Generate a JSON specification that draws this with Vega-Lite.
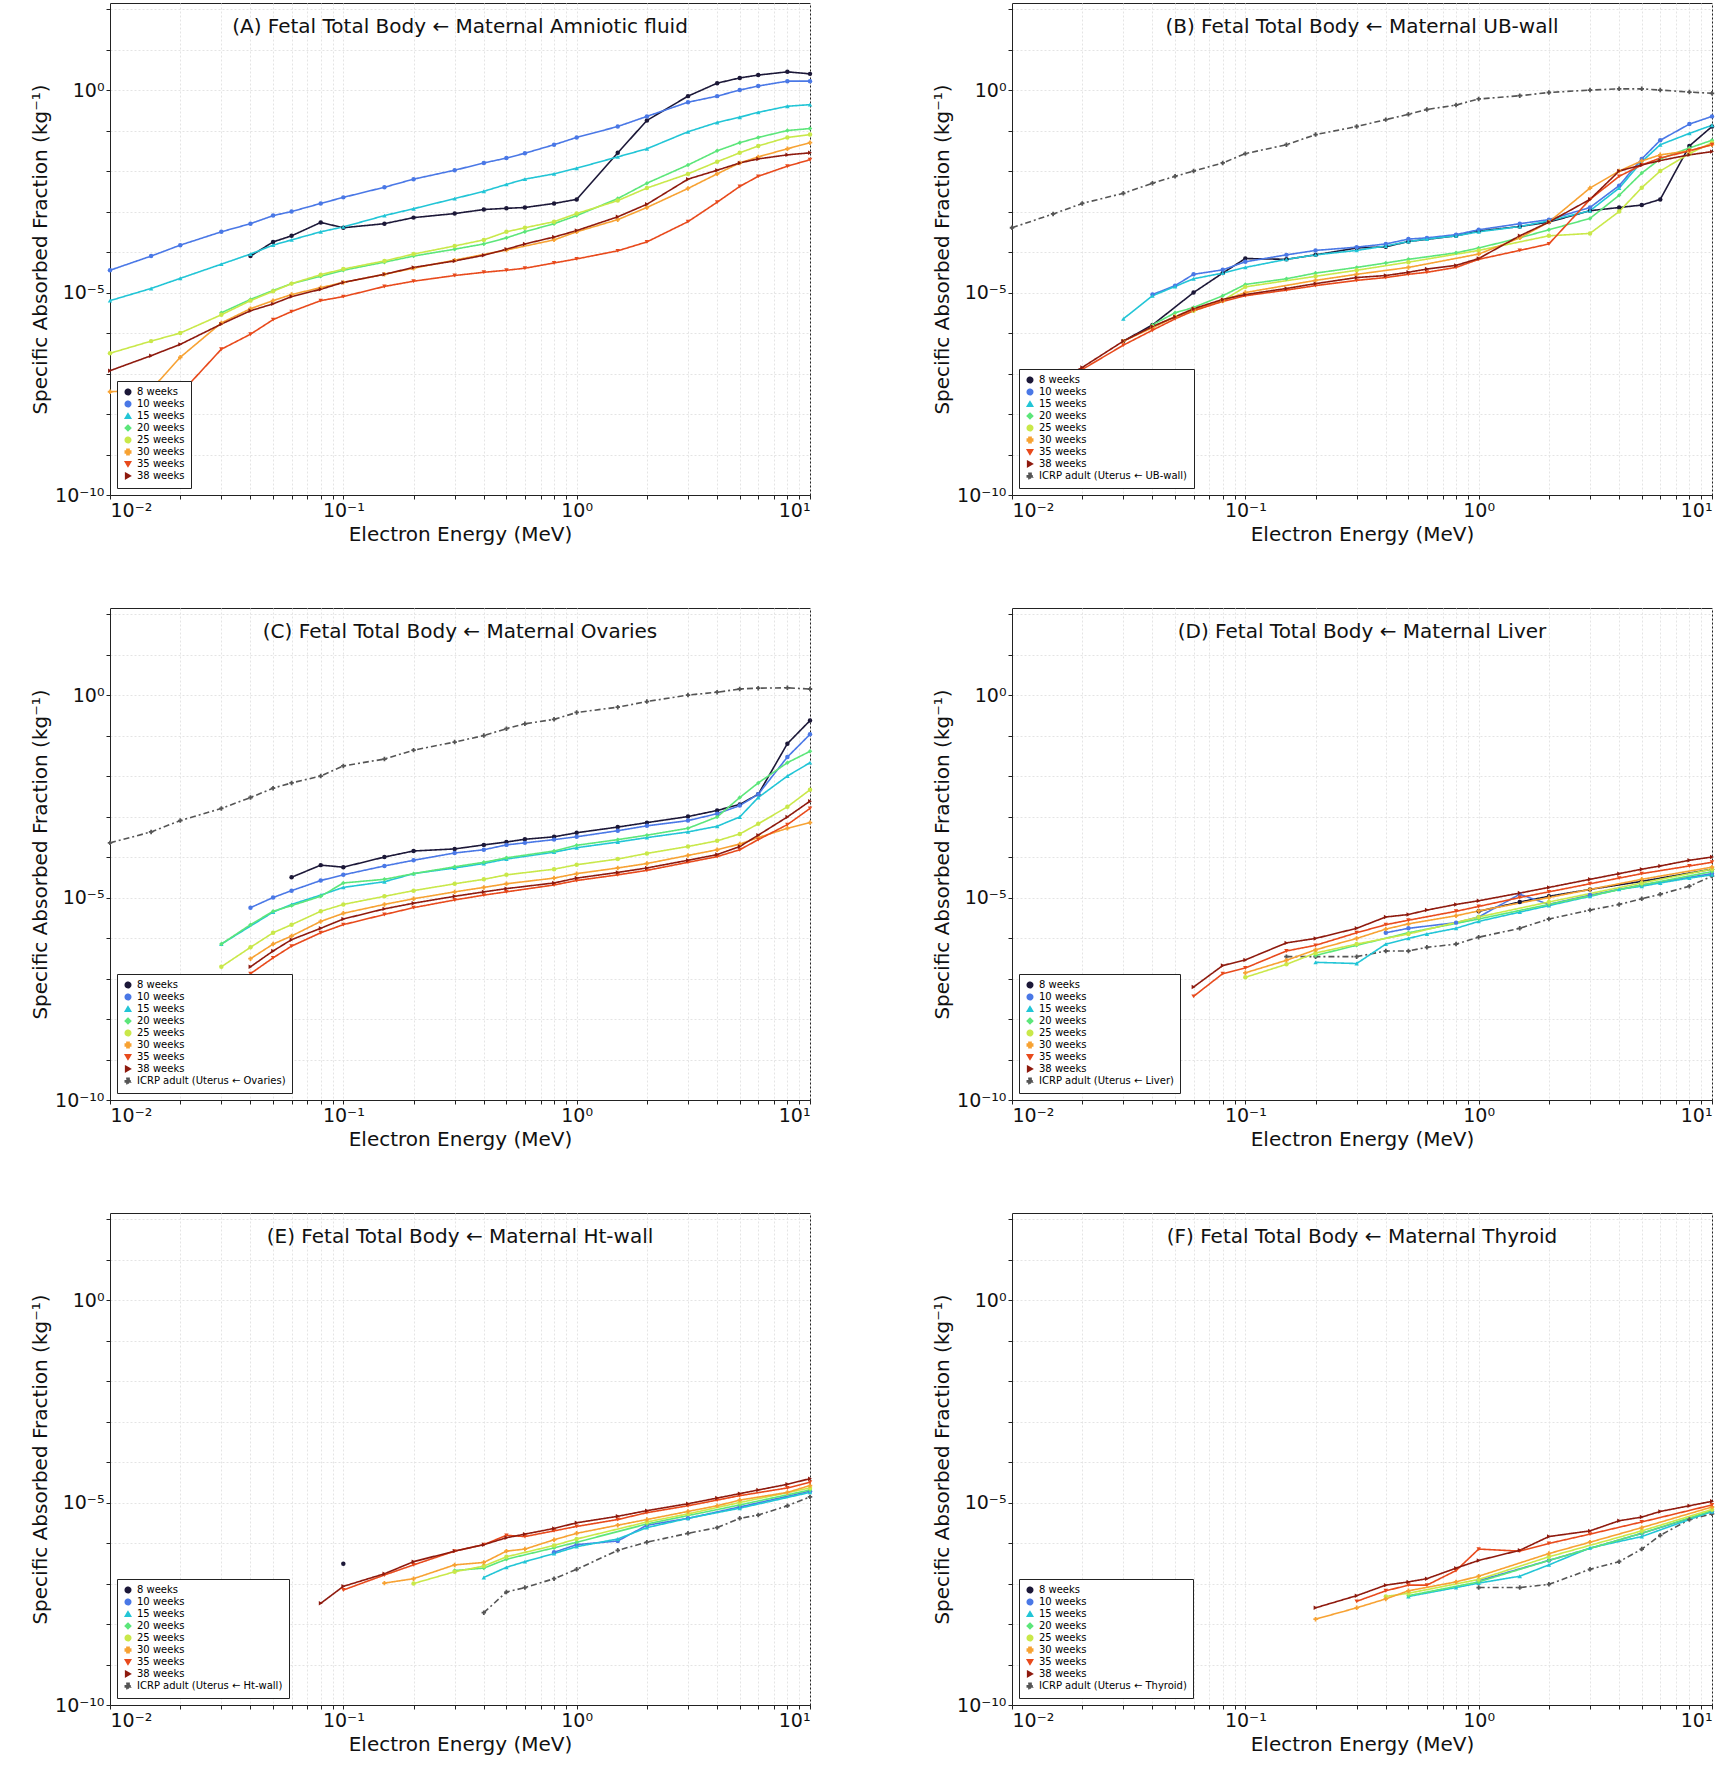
{
"$schema":"https://vega.github.io/schema/vega-lite/v6.json",
"padding":{"left":30,"top":2,"right":5,"bottom":5},
"config":{"font":"DejaVu Sans","view":{"stroke":"#222"},"axis":{"gridColor":"#e4e4e4","gridDash":[2,2],"labelFontSize":19,"titleFontSize":20,"titleFontWeight":"normal","domainColor":"#222","tickColor":"#222","labelColor":"#111","titleColor":"#111"},"title":{"fontSize":20,"fontWeight":"normal","offset":-34,"color":"#111"},"legend":{"orient":"bottom-left","labelFontSize":10,"fillColor":"white","strokeColor":"#222","padding":6,"rowPadding":0,"symbolSize":30,"symbolStrokeWidth":1.5,"labelLimit":300,"offset":7}},
"datasets":{
"A":[
{"s":"8 weeks","e":0.04,"l":-4.1},{"s":"8 weeks","e":0.05,"l":-3.75},{"s":"8 weeks","e":0.06,"l":-3.6},{"s":"8 weeks","e":0.08,"l":-3.27},{"s":"8 weeks","e":0.1,"l":-3.4},{"s":"8 weeks","e":0.15,"l":-3.3},{"s":"8 weeks","e":0.2,"l":-3.15},{"s":"8 weeks","e":0.3,"l":-3.05},{"s":"8 weeks","e":0.4,"l":-2.95},{"s":"8 weeks","e":0.5,"l":-2.92},{"s":"8 weeks","e":0.6,"l":-2.9},{"s":"8 weeks","e":0.8,"l":-2.8},{"s":"8 weeks","e":1,"l":-2.7},{"s":"8 weeks","e":1.5,"l":-1.55},{"s":"8 weeks","e":2,"l":-0.75},{"s":"8 weeks","e":3,"l":-0.15},{"s":"8 weeks","e":4,"l":0.17},{"s":"8 weeks","e":5,"l":0.3},{"s":"8 weeks","e":6,"l":0.37},{"s":"8 weeks","e":8,"l":0.45},{"s":"8 weeks","e":10,"l":0.4},
{"s":"10 weeks","e":0.01,"l":-4.45},{"s":"10 weeks","e":0.015,"l":-4.1},{"s":"10 weeks","e":0.02,"l":-3.83},{"s":"10 weeks","e":0.03,"l":-3.5},{"s":"10 weeks","e":0.04,"l":-3.3},{"s":"10 weeks","e":0.05,"l":-3.1},{"s":"10 weeks","e":0.06,"l":-3.0},{"s":"10 weeks","e":0.08,"l":-2.8},{"s":"10 weeks","e":0.1,"l":-2.65},{"s":"10 weeks","e":0.15,"l":-2.4},{"s":"10 weeks","e":0.2,"l":-2.2},{"s":"10 weeks","e":0.3,"l":-1.98},{"s":"10 weeks","e":0.4,"l":-1.8},{"s":"10 weeks","e":0.5,"l":-1.68},{"s":"10 weeks","e":0.6,"l":-1.56},{"s":"10 weeks","e":0.8,"l":-1.35},{"s":"10 weeks","e":1,"l":-1.17},{"s":"10 weeks","e":1.5,"l":-0.9},{"s":"10 weeks","e":2,"l":-0.65},{"s":"10 weeks","e":3,"l":-0.3},{"s":"10 weeks","e":4,"l":-0.15},{"s":"10 weeks","e":5,"l":0},{"s":"10 weeks","e":6,"l":0.1},{"s":"10 weeks","e":8,"l":0.22},{"s":"10 weeks","e":10,"l":0.22},
{"s":"15 weeks","e":0.01,"l":-5.2},{"s":"15 weeks","e":0.015,"l":-4.9},{"s":"15 weeks","e":0.02,"l":-4.65},{"s":"15 weeks","e":0.03,"l":-4.3},{"s":"15 weeks","e":0.04,"l":-4.05},{"s":"15 weeks","e":0.05,"l":-3.83},{"s":"15 weeks","e":0.06,"l":-3.7},{"s":"15 weeks","e":0.08,"l":-3.5},{"s":"15 weeks","e":0.1,"l":-3.38},{"s":"15 weeks","e":0.15,"l":-3.1},{"s":"15 weeks","e":0.2,"l":-2.93},{"s":"15 weeks","e":0.3,"l":-2.68},{"s":"15 weeks","e":0.4,"l":-2.5},{"s":"15 weeks","e":0.5,"l":-2.33},{"s":"15 weeks","e":0.6,"l":-2.2},{"s":"15 weeks","e":0.8,"l":-2.07},{"s":"15 weeks","e":1,"l":-1.93},{"s":"15 weeks","e":1.5,"l":-1.65},{"s":"15 weeks","e":2,"l":-1.45},{"s":"15 weeks","e":3,"l":-1.03},{"s":"15 weeks","e":4,"l":-0.8},{"s":"15 weeks","e":5,"l":-0.67},{"s":"15 weeks","e":6,"l":-0.55},{"s":"15 weeks","e":8,"l":-0.4},{"s":"15 weeks","e":10,"l":-0.36},
{"s":"20 weeks","e":0.03,"l":-5.5},{"s":"20 weeks","e":0.04,"l":-5.17},{"s":"20 weeks","e":0.05,"l":-4.95},{"s":"20 weeks","e":0.06,"l":-4.78},{"s":"20 weeks","e":0.08,"l":-4.6},{"s":"20 weeks","e":0.1,"l":-4.45},{"s":"20 weeks","e":0.15,"l":-4.25},{"s":"20 weeks","e":0.2,"l":-4.1},{"s":"20 weeks","e":0.3,"l":-3.93},{"s":"20 weeks","e":0.4,"l":-3.8},{"s":"20 weeks","e":0.5,"l":-3.65},{"s":"20 weeks","e":0.6,"l":-3.5},{"s":"20 weeks","e":0.8,"l":-3.3},{"s":"20 weeks","e":1,"l":-3.1},{"s":"20 weeks","e":1.5,"l":-2.68},{"s":"20 weeks","e":2,"l":-2.3},{"s":"20 weeks","e":3,"l":-1.85},{"s":"20 weeks","e":4,"l":-1.5},{"s":"20 weeks","e":5,"l":-1.3},{"s":"20 weeks","e":6,"l":-1.17},{"s":"20 weeks","e":8,"l":-1.0},{"s":"20 weeks","e":10,"l":-0.95},
{"s":"25 weeks","e":0.01,"l":-6.5},{"s":"25 weeks","e":0.015,"l":-6.2},{"s":"25 weeks","e":0.02,"l":-6.0},{"s":"25 weeks","e":0.03,"l":-5.55},{"s":"25 weeks","e":0.04,"l":-5.2},{"s":"25 weeks","e":0.05,"l":-4.97},{"s":"25 weeks","e":0.06,"l":-4.78},{"s":"25 weeks","e":0.08,"l":-4.56},{"s":"25 weeks","e":0.1,"l":-4.42},{"s":"25 weeks","e":0.15,"l":-4.22},{"s":"25 weeks","e":0.2,"l":-4.05},{"s":"25 weeks","e":0.3,"l":-3.85},{"s":"25 weeks","e":0.4,"l":-3.7},{"s":"25 weeks","e":0.5,"l":-3.5},{"s":"25 weeks","e":0.6,"l":-3.4},{"s":"25 weeks","e":0.8,"l":-3.25},{"s":"25 weeks","e":1,"l":-3.05},{"s":"25 weeks","e":1.5,"l":-2.73},{"s":"25 weeks","e":2,"l":-2.42},{"s":"25 weeks","e":3,"l":-2.07},{"s":"25 weeks","e":4,"l":-1.77},{"s":"25 weeks","e":5,"l":-1.55},{"s":"25 weeks","e":6,"l":-1.38},{"s":"25 weeks","e":8,"l":-1.17},{"s":"25 weeks","e":10,"l":-1.1},
{"s":"30 weeks","e":0.01,"l":-7.45},{"s":"30 weeks","e":0.015,"l":-7.4},{"s":"30 weeks","e":0.02,"l":-6.6},{"s":"30 weeks","e":0.03,"l":-5.75},{"s":"30 weeks","e":0.04,"l":-5.4},{"s":"30 weeks","e":0.05,"l":-5.2},{"s":"30 weeks","e":0.06,"l":-5.05},{"s":"30 weeks","e":0.08,"l":-4.88},{"s":"30 weeks","e":0.1,"l":-4.75},{"s":"30 weeks","e":0.15,"l":-4.55},{"s":"30 weeks","e":0.2,"l":-4.4},{"s":"30 weeks","e":0.3,"l":-4.2},{"s":"30 weeks","e":0.5,"l":-3.95},{"s":"30 weeks","e":0.8,"l":-3.7},{"s":"30 weeks","e":1,"l":-3.5},{"s":"30 weeks","e":1.5,"l":-3.2},{"s":"30 weeks","e":2,"l":-2.9},{"s":"30 weeks","e":3,"l":-2.43},{"s":"30 weeks","e":4,"l":-2.07},{"s":"30 weeks","e":5,"l":-1.8},{"s":"30 weeks","e":6,"l":-1.65},{"s":"30 weeks","e":8,"l":-1.45},{"s":"30 weeks","e":10,"l":-1.3},
{"s":"35 weeks","e":0.02,"l":-7.5},{"s":"35 weeks","e":0.03,"l":-6.4},{"s":"35 weeks","e":0.04,"l":-6.03},{"s":"35 weeks","e":0.05,"l":-5.67},{"s":"35 weeks","e":0.06,"l":-5.47},{"s":"35 weeks","e":0.08,"l":-5.2},{"s":"35 weeks","e":0.1,"l":-5.1},{"s":"35 weeks","e":0.15,"l":-4.85},{"s":"35 weeks","e":0.2,"l":-4.72},{"s":"35 weeks","e":0.3,"l":-4.58},{"s":"35 weeks","e":0.4,"l":-4.5},{"s":"35 weeks","e":0.5,"l":-4.45},{"s":"35 weeks","e":0.6,"l":-4.4},{"s":"35 weeks","e":0.8,"l":-4.27},{"s":"35 weeks","e":1,"l":-4.17},{"s":"35 weeks","e":1.5,"l":-3.97},{"s":"35 weeks","e":2,"l":-3.75},{"s":"35 weeks","e":3,"l":-3.25},{"s":"35 weeks","e":4,"l":-2.77},{"s":"35 weeks","e":5,"l":-2.38},{"s":"35 weeks","e":6,"l":-2.13},{"s":"35 weeks","e":8,"l":-1.88},{"s":"35 weeks","e":10,"l":-1.72},
{"s":"38 weeks","e":0.01,"l":-6.93},{"s":"38 weeks","e":0.015,"l":-6.56},{"s":"38 weeks","e":0.02,"l":-6.28},{"s":"38 weeks","e":0.03,"l":-5.78},{"s":"38 weeks","e":0.04,"l":-5.45},{"s":"38 weeks","e":0.05,"l":-5.28},{"s":"38 weeks","e":0.06,"l":-5.1},{"s":"38 weeks","e":0.08,"l":-4.92},{"s":"38 weeks","e":0.1,"l":-4.75},{"s":"38 weeks","e":0.15,"l":-4.55},{"s":"38 weeks","e":0.2,"l":-4.38},{"s":"38 weeks","e":0.3,"l":-4.22},{"s":"38 weeks","e":0.4,"l":-4.08},{"s":"38 weeks","e":0.5,"l":-3.93},{"s":"38 weeks","e":0.6,"l":-3.8},{"s":"38 weeks","e":0.8,"l":-3.63},{"s":"38 weeks","e":1,"l":-3.47},{"s":"38 weeks","e":1.5,"l":-3.13},{"s":"38 weeks","e":2,"l":-2.82},{"s":"38 weeks","e":3,"l":-2.2},{"s":"38 weeks","e":4,"l":-1.98},{"s":"38 weeks","e":5,"l":-1.8},{"s":"38 weeks","e":6,"l":-1.7},{"s":"38 weeks","e":8,"l":-1.6},{"s":"38 weeks","e":10,"l":-1.55}
],
"B":[
{"s":"ICRP adult (Uterus ← UB-wall)","e":0.01,"l":-3.4},{"s":"ICRP adult (Uterus ← UB-wall)","e":0.015,"l":-3.06},{"s":"ICRP adult (Uterus ← UB-wall)","e":0.02,"l":-2.8},{"s":"ICRP adult (Uterus ← UB-wall)","e":0.03,"l":-2.55},{"s":"ICRP adult (Uterus ← UB-wall)","e":0.04,"l":-2.3},{"s":"ICRP adult (Uterus ← UB-wall)","e":0.05,"l":-2.13},{"s":"ICRP adult (Uterus ← UB-wall)","e":0.06,"l":-2.0},{"s":"ICRP adult (Uterus ← UB-wall)","e":0.08,"l":-1.8},{"s":"ICRP adult (Uterus ← UB-wall)","e":0.1,"l":-1.57},{"s":"ICRP adult (Uterus ← UB-wall)","e":0.15,"l":-1.35},{"s":"ICRP adult (Uterus ← UB-wall)","e":0.2,"l":-1.1},{"s":"ICRP adult (Uterus ← UB-wall)","e":0.3,"l":-0.9},{"s":"ICRP adult (Uterus ← UB-wall)","e":0.4,"l":-0.73},{"s":"ICRP adult (Uterus ← UB-wall)","e":0.5,"l":-0.6},{"s":"ICRP adult (Uterus ← UB-wall)","e":0.6,"l":-0.48},{"s":"ICRP adult (Uterus ← UB-wall)","e":0.8,"l":-0.37},{"s":"ICRP adult (Uterus ← UB-wall)","e":1,"l":-0.22},{"s":"ICRP adult (Uterus ← UB-wall)","e":1.5,"l":-0.14},{"s":"ICRP adult (Uterus ← UB-wall)","e":2,"l":-0.06},{"s":"ICRP adult (Uterus ← UB-wall)","e":3,"l":0},{"s":"ICRP adult (Uterus ← UB-wall)","e":4,"l":0.03},{"s":"ICRP adult (Uterus ← UB-wall)","e":5,"l":0.03},{"s":"ICRP adult (Uterus ← UB-wall)","e":6,"l":0.0},{"s":"ICRP adult (Uterus ← UB-wall)","e":8,"l":-0.05},{"s":"ICRP adult (Uterus ← UB-wall)","e":10,"l":-0.08},
{"s":"8 weeks","e":0.03,"l":-6.2},{"s":"8 weeks","e":0.04,"l":-5.8},{"s":"8 weeks","e":0.06,"l":-5.0},{"s":"8 weeks","e":0.08,"l":-4.52},{"s":"8 weeks","e":0.1,"l":-4.16},{"s":"8 weeks","e":0.15,"l":-4.18},{"s":"8 weeks","e":0.2,"l":-4.07},{"s":"8 weeks","e":0.3,"l":-3.9},{"s":"8 weeks","e":0.4,"l":-3.87},{"s":"8 weeks","e":0.5,"l":-3.74},{"s":"8 weeks","e":0.8,"l":-3.6},{"s":"8 weeks","e":1,"l":-3.48},{"s":"8 weeks","e":1.5,"l":-3.37},{"s":"8 weeks","e":2,"l":-3.26},{"s":"8 weeks","e":3,"l":-2.98},{"s":"8 weeks","e":4,"l":-2.9},{"s":"8 weeks","e":5,"l":-2.84},{"s":"8 weeks","e":6,"l":-2.7},{"s":"8 weeks","e":8,"l":-1.38},{"s":"8 weeks","e":10,"l":-0.9},
{"s":"10 weeks","e":0.04,"l":-5.05},{"s":"10 weeks","e":0.05,"l":-4.83},{"s":"10 weeks","e":0.06,"l":-4.55},{"s":"10 weeks","e":0.08,"l":-4.44},{"s":"10 weeks","e":0.1,"l":-4.24},{"s":"10 weeks","e":0.15,"l":-4.07},{"s":"10 weeks","e":0.2,"l":-3.96},{"s":"10 weeks","e":0.3,"l":-3.88},{"s":"10 weeks","e":0.4,"l":-3.8},{"s":"10 weeks","e":0.5,"l":-3.68},{"s":"10 weeks","e":0.6,"l":-3.65},{"s":"10 weeks","e":0.8,"l":-3.57},{"s":"10 weeks","e":1,"l":-3.45},{"s":"10 weeks","e":1.5,"l":-3.3},{"s":"10 weeks","e":2,"l":-3.2},{"s":"10 weeks","e":3,"l":-2.9},{"s":"10 weeks","e":4,"l":-2.36},{"s":"10 weeks","e":5,"l":-1.7},{"s":"10 weeks","e":6,"l":-1.24},{"s":"10 weeks","e":8,"l":-0.84},{"s":"10 weeks","e":10,"l":-0.65},
{"s":"15 weeks","e":0.03,"l":-5.65},{"s":"15 weeks","e":0.04,"l":-5.08},{"s":"15 weeks","e":0.05,"l":-4.85},{"s":"15 weeks","e":0.06,"l":-4.66},{"s":"15 weeks","e":0.08,"l":-4.52},{"s":"15 weeks","e":0.1,"l":-4.38},{"s":"15 weeks","e":0.15,"l":-4.18},{"s":"15 weeks","e":0.2,"l":-4.07},{"s":"15 weeks","e":0.3,"l":-3.96},{"s":"15 weeks","e":0.4,"l":-3.85},{"s":"15 weeks","e":0.5,"l":-3.74},{"s":"15 weeks","e":0.6,"l":-3.68},{"s":"15 weeks","e":0.8,"l":-3.6},{"s":"15 weeks","e":1,"l":-3.5},{"s":"15 weeks","e":1.5,"l":-3.37},{"s":"15 weeks","e":2,"l":-3.23},{"s":"15 weeks","e":3,"l":-2.98},{"s":"15 weeks","e":4,"l":-2.42},{"s":"15 weeks","e":5,"l":-1.77},{"s":"15 weeks","e":6,"l":-1.35},{"s":"15 weeks","e":8,"l":-1.07},{"s":"15 weeks","e":10,"l":-0.87},
{"s":"20 weeks","e":0.04,"l":-5.8},{"s":"20 weeks","e":0.05,"l":-5.5},{"s":"20 weeks","e":0.06,"l":-5.37},{"s":"20 weeks","e":0.08,"l":-5.08},{"s":"20 weeks","e":0.1,"l":-4.8},{"s":"20 weeks","e":0.15,"l":-4.66},{"s":"20 weeks","e":0.2,"l":-4.52},{"s":"20 weeks","e":0.3,"l":-4.38},{"s":"20 weeks","e":0.4,"l":-4.27},{"s":"20 weeks","e":0.5,"l":-4.18},{"s":"20 weeks","e":0.8,"l":-4.02},{"s":"20 weeks","e":1,"l":-3.9},{"s":"20 weeks","e":1.5,"l":-3.65},{"s":"20 weeks","e":2,"l":-3.45},{"s":"20 weeks","e":3,"l":-3.17},{"s":"20 weeks","e":4,"l":-2.6},{"s":"20 weeks","e":5,"l":-2.05},{"s":"20 weeks","e":6,"l":-1.7},{"s":"20 weeks","e":8,"l":-1.43},{"s":"20 weeks","e":10,"l":-1.24},
{"s":"25 weeks","e":0.04,"l":-5.85},{"s":"25 weeks","e":0.05,"l":-5.6},{"s":"25 weeks","e":0.06,"l":-5.45},{"s":"25 weeks","e":0.08,"l":-5.2},{"s":"25 weeks","e":0.1,"l":-4.86},{"s":"25 weeks","e":0.2,"l":-4.6},{"s":"25 weeks","e":0.3,"l":-4.45},{"s":"25 weeks","e":0.5,"l":-4.25},{"s":"25 weeks","e":1,"l":-3.96},{"s":"25 weeks","e":2,"l":-3.6},{"s":"25 weeks","e":3,"l":-3.54},{"s":"25 weeks","e":4,"l":-3.0},{"s":"25 weeks","e":5,"l":-2.41},{"s":"25 weeks","e":6,"l":-2.0},{"s":"25 weeks","e":8,"l":-1.57},{"s":"25 weeks","e":10,"l":-1.3},
{"s":"30 weeks","e":0.03,"l":-6.2},{"s":"30 weeks","e":0.04,"l":-5.87},{"s":"30 weeks","e":0.05,"l":-5.6},{"s":"30 weeks","e":0.06,"l":-5.42},{"s":"30 weeks","e":0.08,"l":-5.2},{"s":"30 weeks","e":0.1,"l":-5.0},{"s":"30 weeks","e":0.2,"l":-4.7},{"s":"30 weeks","e":0.3,"l":-4.55},{"s":"30 weeks","e":0.5,"l":-4.38},{"s":"30 weeks","e":1,"l":-4.05},{"s":"30 weeks","e":1.5,"l":-3.65},{"s":"30 weeks","e":2,"l":-3.26},{"s":"30 weeks","e":3,"l":-2.42},{"s":"30 weeks","e":4,"l":-2.0},{"s":"30 weeks","e":5,"l":-1.75},{"s":"30 weeks","e":6,"l":-1.6},{"s":"30 weeks","e":8,"l":-1.5},{"s":"30 weeks","e":10,"l":-1.35},
{"s":"35 weeks","e":0.015,"l":-7.3},{"s":"35 weeks","e":0.02,"l":-6.9},{"s":"35 weeks","e":0.03,"l":-6.3},{"s":"35 weeks","e":0.04,"l":-5.93},{"s":"35 weeks","e":0.05,"l":-5.65},{"s":"35 weeks","e":0.06,"l":-5.45},{"s":"35 weeks","e":0.08,"l":-5.22},{"s":"35 weeks","e":0.1,"l":-5.08},{"s":"35 weeks","e":0.15,"l":-4.94},{"s":"35 weeks","e":0.2,"l":-4.83},{"s":"35 weeks","e":0.3,"l":-4.7},{"s":"35 weeks","e":0.4,"l":-4.63},{"s":"35 weeks","e":0.5,"l":-4.55},{"s":"35 weeks","e":0.6,"l":-4.5},{"s":"35 weeks","e":0.8,"l":-4.38},{"s":"35 weeks","e":1,"l":-4.18},{"s":"35 weeks","e":1.5,"l":-3.96},{"s":"35 weeks","e":2,"l":-3.8},{"s":"35 weeks","e":3,"l":-2.7},{"s":"35 weeks","e":4,"l":-2.13},{"s":"35 weeks","e":5,"l":-1.85},{"s":"35 weeks","e":6,"l":-1.68},{"s":"35 weeks","e":8,"l":-1.5},{"s":"35 weeks","e":10,"l":-1.35},
{"s":"38 weeks","e":0.015,"l":-7.25},{"s":"38 weeks","e":0.02,"l":-6.85},{"s":"38 weeks","e":0.03,"l":-6.2},{"s":"38 weeks","e":0.04,"l":-5.84},{"s":"38 weeks","e":0.05,"l":-5.6},{"s":"38 weeks","e":0.06,"l":-5.4},{"s":"38 weeks","e":0.08,"l":-5.17},{"s":"38 weeks","e":0.1,"l":-5.05},{"s":"38 weeks","e":0.15,"l":-4.9},{"s":"38 weeks","e":0.2,"l":-4.78},{"s":"38 weeks","e":0.3,"l":-4.63},{"s":"38 weeks","e":0.4,"l":-4.58},{"s":"38 weeks","e":0.5,"l":-4.5},{"s":"38 weeks","e":0.6,"l":-4.42},{"s":"38 weeks","e":0.8,"l":-4.33},{"s":"38 weeks","e":1,"l":-4.16},{"s":"38 weeks","e":1.5,"l":-3.6},{"s":"38 weeks","e":2,"l":-3.26},{"s":"38 weeks","e":3,"l":-2.7},{"s":"38 weeks","e":4,"l":-2.0},{"s":"38 weeks","e":5,"l":-1.85},{"s":"38 weeks","e":6,"l":-1.74},{"s":"38 weeks","e":8,"l":-1.6},{"s":"38 weeks","e":10,"l":-1.52}
],
"C":[
{"s":"ICRP adult (Uterus ← Ovaries)","e":0.01,"l":-3.65},{"s":"ICRP adult (Uterus ← Ovaries)","e":0.015,"l":-3.38},{"s":"ICRP adult (Uterus ← Ovaries)","e":0.02,"l":-3.1},{"s":"ICRP adult (Uterus ← Ovaries)","e":0.03,"l":-2.8},{"s":"ICRP adult (Uterus ← Ovaries)","e":0.04,"l":-2.53},{"s":"ICRP adult (Uterus ← Ovaries)","e":0.05,"l":-2.3},{"s":"ICRP adult (Uterus ← Ovaries)","e":0.06,"l":-2.17},{"s":"ICRP adult (Uterus ← Ovaries)","e":0.08,"l":-2.0},{"s":"ICRP adult (Uterus ← Ovaries)","e":0.1,"l":-1.75},{"s":"ICRP adult (Uterus ← Ovaries)","e":0.15,"l":-1.58},{"s":"ICRP adult (Uterus ← Ovaries)","e":0.2,"l":-1.36},{"s":"ICRP adult (Uterus ← Ovaries)","e":0.3,"l":-1.16},{"s":"ICRP adult (Uterus ← Ovaries)","e":0.4,"l":-1.0},{"s":"ICRP adult (Uterus ← Ovaries)","e":0.5,"l":-0.83},{"s":"ICRP adult (Uterus ← Ovaries)","e":0.6,"l":-0.71},{"s":"ICRP adult (Uterus ← Ovaries)","e":0.8,"l":-0.6},{"s":"ICRP adult (Uterus ← Ovaries)","e":1,"l":-0.43},{"s":"ICRP adult (Uterus ← Ovaries)","e":1.5,"l":-0.3},{"s":"ICRP adult (Uterus ← Ovaries)","e":2,"l":-0.16},{"s":"ICRP adult (Uterus ← Ovaries)","e":3,"l":0},{"s":"ICRP adult (Uterus ← Ovaries)","e":4,"l":0.07},{"s":"ICRP adult (Uterus ← Ovaries)","e":5,"l":0.15},{"s":"ICRP adult (Uterus ← Ovaries)","e":6,"l":0.17},{"s":"ICRP adult (Uterus ← Ovaries)","e":8,"l":0.18},{"s":"ICRP adult (Uterus ← Ovaries)","e":10,"l":0.15},
{"s":"8 weeks","e":0.06,"l":-4.5},{"s":"8 weeks","e":0.08,"l":-4.2},{"s":"8 weeks","e":0.1,"l":-4.25},{"s":"8 weeks","e":0.15,"l":-4.0},{"s":"8 weeks","e":0.2,"l":-3.85},{"s":"8 weeks","e":0.3,"l":-3.8},{"s":"8 weeks","e":0.4,"l":-3.7},{"s":"8 weeks","e":0.5,"l":-3.63},{"s":"8 weeks","e":0.6,"l":-3.56},{"s":"8 weeks","e":0.8,"l":-3.5},{"s":"8 weeks","e":1,"l":-3.4},{"s":"8 weeks","e":1.5,"l":-3.26},{"s":"8 weeks","e":2,"l":-3.15},{"s":"8 weeks","e":3,"l":-3.0},{"s":"8 weeks","e":4,"l":-2.85},{"s":"8 weeks","e":5,"l":-2.7},{"s":"8 weeks","e":6,"l":-2.45},{"s":"8 weeks","e":8,"l":-1.2},{"s":"8 weeks","e":10,"l":-0.63},
{"s":"10 weeks","e":0.04,"l":-5.25},{"s":"10 weeks","e":0.05,"l":-5.0},{"s":"10 weeks","e":0.06,"l":-4.83},{"s":"10 weeks","e":0.08,"l":-4.58},{"s":"10 weeks","e":0.1,"l":-4.44},{"s":"10 weeks","e":0.15,"l":-4.22},{"s":"10 weeks","e":0.2,"l":-4.08},{"s":"10 weeks","e":0.3,"l":-3.9},{"s":"10 weeks","e":0.4,"l":-3.82},{"s":"10 weeks","e":0.5,"l":-3.7},{"s":"10 weeks","e":0.6,"l":-3.65},{"s":"10 weeks","e":0.8,"l":-3.57},{"s":"10 weeks","e":1,"l":-3.5},{"s":"10 weeks","e":1.5,"l":-3.35},{"s":"10 weeks","e":2,"l":-3.23},{"s":"10 weeks","e":3,"l":-3.1},{"s":"10 weeks","e":4,"l":-2.93},{"s":"10 weeks","e":5,"l":-2.73},{"s":"10 weeks","e":6,"l":-2.45},{"s":"10 weeks","e":8,"l":-1.53},{"s":"10 weeks","e":10,"l":-0.97},
{"s":"15 weeks","e":0.03,"l":-6.15},{"s":"15 weeks","e":0.05,"l":-5.36},{"s":"15 weeks","e":0.06,"l":-5.17},{"s":"15 weeks","e":0.08,"l":-4.94},{"s":"15 weeks","e":0.1,"l":-4.75},{"s":"15 weeks","e":0.15,"l":-4.61},{"s":"15 weeks","e":0.2,"l":-4.41},{"s":"15 weeks","e":0.3,"l":-4.27},{"s":"15 weeks","e":0.4,"l":-4.16},{"s":"15 weeks","e":0.5,"l":-4.05},{"s":"15 weeks","e":0.8,"l":-3.88},{"s":"15 weeks","e":1,"l":-3.77},{"s":"15 weeks","e":1.5,"l":-3.63},{"s":"15 weeks","e":2,"l":-3.52},{"s":"15 weeks","e":3,"l":-3.38},{"s":"15 weeks","e":4,"l":-3.24},{"s":"15 weeks","e":5,"l":-3.01},{"s":"15 weeks","e":6,"l":-2.53},{"s":"15 weeks","e":8,"l":-2.0},{"s":"15 weeks","e":10,"l":-1.67},
{"s":"20 weeks","e":0.03,"l":-6.15},{"s":"20 weeks","e":0.04,"l":-5.67},{"s":"20 weeks","e":0.05,"l":-5.34},{"s":"20 weeks","e":0.06,"l":-5.2},{"s":"20 weeks","e":0.08,"l":-4.97},{"s":"20 weeks","e":0.1,"l":-4.64},{"s":"20 weeks","e":0.15,"l":-4.55},{"s":"20 weeks","e":0.2,"l":-4.41},{"s":"20 weeks","e":0.3,"l":-4.24},{"s":"20 weeks","e":0.4,"l":-4.13},{"s":"20 weeks","e":0.5,"l":-4.02},{"s":"20 weeks","e":0.8,"l":-3.85},{"s":"20 weeks","e":1,"l":-3.71},{"s":"20 weeks","e":1.5,"l":-3.57},{"s":"20 weeks","e":2,"l":-3.46},{"s":"20 weeks","e":3,"l":-3.29},{"s":"20 weeks","e":4,"l":-3.01},{"s":"20 weeks","e":5,"l":-2.53},{"s":"20 weeks","e":6,"l":-2.17},{"s":"20 weeks","e":8,"l":-1.67},{"s":"20 weeks","e":10,"l":-1.39},
{"s":"25 weeks","e":0.03,"l":-6.71},{"s":"25 weeks","e":0.04,"l":-6.23},{"s":"25 weeks","e":0.05,"l":-5.87},{"s":"25 weeks","e":0.06,"l":-5.67},{"s":"25 weeks","e":0.08,"l":-5.34},{"s":"25 weeks","e":0.1,"l":-5.17},{"s":"25 weeks","e":0.15,"l":-4.97},{"s":"25 weeks","e":0.2,"l":-4.83},{"s":"25 weeks","e":0.3,"l":-4.66},{"s":"25 weeks","e":0.4,"l":-4.55},{"s":"25 weeks","e":0.5,"l":-4.44},{"s":"25 weeks","e":0.8,"l":-4.3},{"s":"25 weeks","e":1,"l":-4.19},{"s":"25 weeks","e":1.5,"l":-4.05},{"s":"25 weeks","e":2,"l":-3.91},{"s":"25 weeks","e":3,"l":-3.74},{"s":"25 weeks","e":4,"l":-3.6},{"s":"25 weeks","e":5,"l":-3.43},{"s":"25 weeks","e":6,"l":-3.18},{"s":"25 weeks","e":8,"l":-2.76},{"s":"25 weeks","e":10,"l":-2.34},
{"s":"30 weeks","e":0.04,"l":-6.51},{"s":"30 weeks","e":0.05,"l":-6.15},{"s":"30 weeks","e":0.06,"l":-5.95},{"s":"30 weeks","e":0.08,"l":-5.59},{"s":"30 weeks","e":0.1,"l":-5.39},{"s":"30 weeks","e":0.15,"l":-5.17},{"s":"30 weeks","e":0.2,"l":-5.03},{"s":"30 weeks","e":0.3,"l":-4.86},{"s":"30 weeks","e":0.4,"l":-4.75},{"s":"30 weeks","e":0.5,"l":-4.66},{"s":"30 weeks","e":0.8,"l":-4.52},{"s":"30 weeks","e":1,"l":-4.41},{"s":"30 weeks","e":1.5,"l":-4.27},{"s":"30 weeks","e":2,"l":-4.16},{"s":"30 weeks","e":3,"l":-3.96},{"s":"30 weeks","e":4,"l":-3.82},{"s":"30 weeks","e":5,"l":-3.68},{"s":"30 weeks","e":6,"l":-3.52},{"s":"30 weeks","e":8,"l":-3.29},{"s":"30 weeks","e":10,"l":-3.15},
{"s":"35 weeks","e":0.04,"l":-6.88},{"s":"35 weeks","e":0.05,"l":-6.49},{"s":"35 weeks","e":0.06,"l":-6.2},{"s":"35 weeks","e":0.08,"l":-5.87},{"s":"35 weeks","e":0.1,"l":-5.67},{"s":"35 weeks","e":0.15,"l":-5.42},{"s":"35 weeks","e":0.2,"l":-5.25},{"s":"35 weeks","e":0.3,"l":-5.06},{"s":"35 weeks","e":0.4,"l":-4.94},{"s":"35 weeks","e":0.5,"l":-4.86},{"s":"35 weeks","e":0.8,"l":-4.69},{"s":"35 weeks","e":1,"l":-4.58},{"s":"35 weeks","e":1.5,"l":-4.44},{"s":"35 weeks","e":2,"l":-4.33},{"s":"35 weeks","e":3,"l":-4.13},{"s":"35 weeks","e":4,"l":-3.99},{"s":"35 weeks","e":5,"l":-3.82},{"s":"35 weeks","e":6,"l":-3.57},{"s":"35 weeks","e":8,"l":-3.2},{"s":"35 weeks","e":10,"l":-2.8},
{"s":"38 weeks","e":0.04,"l":-6.71},{"s":"38 weeks","e":0.05,"l":-6.32},{"s":"38 weeks","e":0.06,"l":-6.04},{"s":"38 weeks","e":0.08,"l":-5.76},{"s":"38 weeks","e":0.1,"l":-5.53},{"s":"38 weeks","e":0.15,"l":-5.28},{"s":"38 weeks","e":0.2,"l":-5.14},{"s":"38 weeks","e":0.3,"l":-4.97},{"s":"38 weeks","e":0.4,"l":-4.86},{"s":"38 weeks","e":0.5,"l":-4.78},{"s":"38 weeks","e":0.8,"l":-4.64},{"s":"38 weeks","e":1,"l":-4.52},{"s":"38 weeks","e":1.5,"l":-4.38},{"s":"38 weeks","e":2,"l":-4.27},{"s":"38 weeks","e":3,"l":-4.08},{"s":"38 weeks","e":4,"l":-3.94},{"s":"38 weeks","e":5,"l":-3.74},{"s":"38 weeks","e":6,"l":-3.46},{"s":"38 weeks","e":8,"l":-3.01},{"s":"38 weeks","e":10,"l":-2.62}
],
"D":[
{"s":"ICRP adult (Uterus ← Liver)","e":0.15,"l":-6.46},{"s":"ICRP adult (Uterus ← Liver)","e":0.2,"l":-6.46},{"s":"ICRP adult (Uterus ← Liver)","e":0.3,"l":-6.46},{"s":"ICRP adult (Uterus ← Liver)","e":0.4,"l":-6.32},{"s":"ICRP adult (Uterus ← Liver)","e":0.5,"l":-6.32},{"s":"ICRP adult (Uterus ← Liver)","e":0.6,"l":-6.23},{"s":"ICRP adult (Uterus ← Liver)","e":0.8,"l":-6.15},{"s":"ICRP adult (Uterus ← Liver)","e":1,"l":-5.98},{"s":"ICRP adult (Uterus ← Liver)","e":1.5,"l":-5.76},{"s":"ICRP adult (Uterus ← Liver)","e":2,"l":-5.53},{"s":"ICRP adult (Uterus ← Liver)","e":3,"l":-5.31},{"s":"ICRP adult (Uterus ← Liver)","e":4,"l":-5.17},{"s":"ICRP adult (Uterus ← Liver)","e":5,"l":-5.03},{"s":"ICRP adult (Uterus ← Liver)","e":6,"l":-4.92},{"s":"ICRP adult (Uterus ← Liver)","e":8,"l":-4.72},{"s":"ICRP adult (Uterus ← Liver)","e":10,"l":-4.47},
{"s":"8 weeks","e":1,"l":-5.34},{"s":"8 weeks","e":1.5,"l":-5.11},{"s":"8 weeks","e":2,"l":-4.97},{"s":"8 weeks","e":3,"l":-4.8},{"s":"8 weeks","e":5,"l":-4.6},{"s":"8 weeks","e":10,"l":-4.3},
{"s":"10 weeks","e":0.4,"l":-5.87},{"s":"10 weeks","e":0.5,"l":-5.76},{"s":"10 weeks","e":0.8,"l":-5.62},{"s":"10 weeks","e":1,"l":-5.48},{"s":"10 weeks","e":1.5,"l":-4.92},{"s":"10 weeks","e":2,"l":-5.17},{"s":"10 weeks","e":3,"l":-4.94},{"s":"10 weeks","e":5,"l":-4.69},{"s":"10 weeks","e":10,"l":-4.41},
{"s":"15 weeks","e":0.2,"l":-6.6},{"s":"15 weeks","e":0.3,"l":-6.63},{"s":"15 weeks","e":0.4,"l":-6.15},{"s":"15 weeks","e":0.5,"l":-6.01},{"s":"15 weeks","e":0.6,"l":-5.9},{"s":"15 weeks","e":0.8,"l":-5.76},{"s":"15 weeks","e":1,"l":-5.59},{"s":"15 weeks","e":1.5,"l":-5.36},{"s":"15 weeks","e":2,"l":-5.2},{"s":"15 weeks","e":3,"l":-4.97},{"s":"15 weeks","e":4,"l":-4.8},{"s":"15 weeks","e":5,"l":-4.72},{"s":"15 weeks","e":6,"l":-4.64},{"s":"15 weeks","e":8,"l":-4.52},{"s":"15 weeks","e":10,"l":-4.44},
{"s":"20 weeks","e":0.2,"l":-6.43},{"s":"20 weeks","e":0.3,"l":-6.18},{"s":"20 weeks","e":0.5,"l":-5.87},{"s":"20 weeks","e":1,"l":-5.53},{"s":"20 weeks","e":2,"l":-5.17},{"s":"20 weeks","e":5,"l":-4.69},{"s":"20 weeks","e":10,"l":-4.36},
{"s":"25 weeks","e":0.1,"l":-6.97},{"s":"25 weeks","e":0.15,"l":-6.65},{"s":"25 weeks","e":0.2,"l":-6.37},{"s":"25 weeks","e":0.3,"l":-6.15},{"s":"25 weeks","e":0.5,"l":-5.9},{"s":"25 weeks","e":1,"l":-5.48},{"s":"25 weeks","e":2,"l":-5.11},{"s":"25 weeks","e":5,"l":-4.64},{"s":"25 weeks","e":10,"l":-4.3},
{"s":"30 weeks","e":0.1,"l":-6.86},{"s":"30 weeks","e":0.15,"l":-6.55},{"s":"30 weeks","e":0.2,"l":-6.29},{"s":"30 weeks","e":0.3,"l":-6.01},{"s":"30 weeks","e":0.4,"l":-5.78},{"s":"30 weeks","e":0.5,"l":-5.65},{"s":"30 weeks","e":0.8,"l":-5.45},{"s":"30 weeks","e":1,"l":-5.33},{"s":"30 weeks","e":2,"l":-5.0},{"s":"30 weeks","e":3,"l":-4.8},{"s":"30 weeks","e":5,"l":-4.55},{"s":"30 weeks","e":10,"l":-4.25},
{"s":"35 weeks","e":0.06,"l":-7.44},{"s":"35 weeks","e":0.08,"l":-6.88},{"s":"35 weeks","e":0.1,"l":-6.74},{"s":"35 weeks","e":0.15,"l":-6.32},{"s":"35 weeks","e":0.2,"l":-6.18},{"s":"35 weeks","e":0.3,"l":-5.87},{"s":"35 weeks","e":0.4,"l":-5.67},{"s":"35 weeks","e":0.5,"l":-5.56},{"s":"35 weeks","e":0.8,"l":-5.34},{"s":"35 weeks","e":1,"l":-5.22},{"s":"35 weeks","e":1.5,"l":-5.0},{"s":"35 weeks","e":2,"l":-4.86},{"s":"35 weeks","e":3,"l":-4.66},{"s":"35 weeks","e":4,"l":-4.52},{"s":"35 weeks","e":5,"l":-4.41},{"s":"35 weeks","e":8,"l":-4.22},{"s":"35 weeks","e":10,"l":-4.13},
{"s":"38 weeks","e":0.06,"l":-7.21},{"s":"38 weeks","e":0.08,"l":-6.68},{"s":"38 weeks","e":0.1,"l":-6.54},{"s":"38 weeks","e":0.15,"l":-6.12},{"s":"38 weeks","e":0.2,"l":-6.01},{"s":"38 weeks","e":0.3,"l":-5.76},{"s":"38 weeks","e":0.4,"l":-5.48},{"s":"38 weeks","e":0.5,"l":-5.42},{"s":"38 weeks","e":0.6,"l":-5.31},{"s":"38 weeks","e":0.8,"l":-5.17},{"s":"38 weeks","e":1,"l":-5.08},{"s":"38 weeks","e":1.5,"l":-4.89},{"s":"38 weeks","e":2,"l":-4.75},{"s":"38 weeks","e":3,"l":-4.55},{"s":"38 weeks","e":4,"l":-4.41},{"s":"38 weeks","e":5,"l":-4.3},{"s":"38 weeks","e":6,"l":-4.22},{"s":"38 weeks","e":8,"l":-4.08},{"s":"38 weeks","e":10,"l":-4.0}
],
"E":[
{"s":"ICRP adult (Uterus ← Ht-wall)","e":0.4,"l":-7.72},{"s":"ICRP adult (Uterus ← Ht-wall)","e":0.5,"l":-7.21},{"s":"ICRP adult (Uterus ← Ht-wall)","e":0.6,"l":-7.1},{"s":"ICRP adult (Uterus ← Ht-wall)","e":0.8,"l":-6.88},{"s":"ICRP adult (Uterus ← Ht-wall)","e":1,"l":-6.65},{"s":"ICRP adult (Uterus ← Ht-wall)","e":1.5,"l":-6.18},{"s":"ICRP adult (Uterus ← Ht-wall)","e":2,"l":-5.98},{"s":"ICRP adult (Uterus ← Ht-wall)","e":3,"l":-5.76},{"s":"ICRP adult (Uterus ← Ht-wall)","e":4,"l":-5.62},{"s":"ICRP adult (Uterus ← Ht-wall)","e":5,"l":-5.39},{"s":"ICRP adult (Uterus ← Ht-wall)","e":6,"l":-5.31},{"s":"ICRP adult (Uterus ← Ht-wall)","e":8,"l":-5.08},{"s":"ICRP adult (Uterus ← Ht-wall)","e":10,"l":-4.86},
{"s":"8 weeks","e":0.1,"l":-6.51},
{"s":"10 weeks","e":0.8,"l":-6.23},{"s":"10 weeks","e":1,"l":-6.04},{"s":"10 weeks","e":1.5,"l":-5.95},{"s":"10 weeks","e":2,"l":-5.56},{"s":"10 weeks","e":3,"l":-5.39},{"s":"10 weeks","e":5,"l":-5.11},{"s":"10 weeks","e":10,"l":-4.72},
{"s":"15 weeks","e":0.4,"l":-6.85},{"s":"15 weeks","e":0.5,"l":-6.6},{"s":"15 weeks","e":0.6,"l":-6.46},{"s":"15 weeks","e":0.8,"l":-6.26},{"s":"15 weeks","e":1,"l":-6.09},{"s":"15 weeks","e":1.5,"l":-5.9},{"s":"15 weeks","e":2,"l":-5.62},{"s":"15 weeks","e":3,"l":-5.39},{"s":"15 weeks","e":5,"l":-5.14},{"s":"15 weeks","e":10,"l":-4.75},
{"s":"20 weeks","e":0.3,"l":-6.68},{"s":"20 weeks","e":0.4,"l":-6.62},{"s":"20 weeks","e":0.5,"l":-6.4},{"s":"20 weeks","e":0.8,"l":-6.12},{"s":"20 weeks","e":1,"l":-5.98},{"s":"20 weeks","e":2,"l":-5.53},{"s":"20 weeks","e":5,"l":-5.06},{"s":"20 weeks","e":10,"l":-4.69},
{"s":"25 weeks","e":0.2,"l":-7.0},{"s":"25 weeks","e":0.3,"l":-6.71},{"s":"25 weeks","e":0.4,"l":-6.57},{"s":"25 weeks","e":0.5,"l":-6.34},{"s":"25 weeks","e":0.8,"l":-6.06},{"s":"25 weeks","e":1,"l":-5.9},{"s":"25 weeks","e":2,"l":-5.48},{"s":"25 weeks","e":3,"l":-5.28},{"s":"25 weeks","e":5,"l":-5.0},{"s":"25 weeks","e":10,"l":-4.64},
{"s":"30 weeks","e":0.15,"l":-6.99},{"s":"30 weeks","e":0.2,"l":-6.88},{"s":"30 weeks","e":0.3,"l":-6.54},{"s":"30 weeks","e":0.4,"l":-6.48},{"s":"30 weeks","e":0.5,"l":-6.2},{"s":"30 weeks","e":0.6,"l":-6.15},{"s":"30 weeks","e":0.8,"l":-5.92},{"s":"30 weeks","e":1,"l":-5.76},{"s":"30 weeks","e":1.5,"l":-5.56},{"s":"30 weeks","e":2,"l":-5.42},{"s":"30 weeks","e":3,"l":-5.22},{"s":"30 weeks","e":4,"l":-5.08},{"s":"30 weeks","e":5,"l":-4.94},{"s":"30 weeks","e":8,"l":-4.75},{"s":"30 weeks","e":10,"l":-4.58},
{"s":"35 weeks","e":0.1,"l":-7.16},{"s":"35 weeks","e":0.15,"l":-6.79},{"s":"35 weeks","e":0.2,"l":-6.54},{"s":"35 weeks","e":0.3,"l":-6.2},{"s":"35 weeks","e":0.4,"l":-6.04},{"s":"35 weeks","e":0.5,"l":-5.81},{"s":"35 weeks","e":0.6,"l":-5.84},{"s":"35 weeks","e":0.8,"l":-5.7},{"s":"35 weeks","e":1,"l":-5.59},{"s":"35 weeks","e":1.5,"l":-5.42},{"s":"35 weeks","e":2,"l":-5.25},{"s":"35 weeks","e":3,"l":-5.08},{"s":"35 weeks","e":4,"l":-4.94},{"s":"35 weeks","e":5,"l":-4.83},{"s":"35 weeks","e":8,"l":-4.64},{"s":"35 weeks","e":10,"l":-4.5},
{"s":"38 weeks","e":0.08,"l":-7.49},{"s":"38 weeks","e":0.1,"l":-7.07},{"s":"38 weeks","e":0.15,"l":-6.76},{"s":"38 weeks","e":0.2,"l":-6.46},{"s":"38 weeks","e":0.3,"l":-6.2},{"s":"38 weeks","e":0.4,"l":-6.04},{"s":"38 weeks","e":0.5,"l":-5.87},{"s":"38 weeks","e":0.6,"l":-5.78},{"s":"38 weeks","e":0.8,"l":-5.64},{"s":"38 weeks","e":1,"l":-5.5},{"s":"38 weeks","e":1.5,"l":-5.34},{"s":"38 weeks","e":2,"l":-5.2},{"s":"38 weeks","e":3,"l":-5.03},{"s":"38 weeks","e":4,"l":-4.89},{"s":"38 weeks","e":5,"l":-4.78},{"s":"38 weeks","e":6,"l":-4.69},{"s":"38 weeks","e":8,"l":-4.55},{"s":"38 weeks","e":10,"l":-4.41}
],
"F":[
{"s":"ICRP adult (Uterus ← Thyroid)","e":1,"l":-7.1},{"s":"ICRP adult (Uterus ← Thyroid)","e":1.5,"l":-7.1},{"s":"ICRP adult (Uterus ← Thyroid)","e":2,"l":-7.02},{"s":"ICRP adult (Uterus ← Thyroid)","e":3,"l":-6.65},{"s":"ICRP adult (Uterus ← Thyroid)","e":4,"l":-6.46},{"s":"ICRP adult (Uterus ← Thyroid)","e":5,"l":-6.15},{"s":"ICRP adult (Uterus ← Thyroid)","e":6,"l":-5.81},{"s":"ICRP adult (Uterus ← Thyroid)","e":8,"l":-5.42},{"s":"ICRP adult (Uterus ← Thyroid)","e":10,"l":-5.28},
{"s":"10 weeks","e":1,"l":-6.93},{"s":"10 weeks","e":2,"l":-6.43},{"s":"10 weeks","e":5,"l":-5.76},{"s":"10 weeks","e":10,"l":-5.22},
{"s":"15 weeks","e":0.5,"l":-7.32},{"s":"15 weeks","e":0.8,"l":-7.1},{"s":"15 weeks","e":1,"l":-6.99},{"s":"15 weeks","e":1.5,"l":-6.82},{"s":"15 weeks","e":2,"l":-6.54},{"s":"15 weeks","e":3,"l":-6.12},{"s":"15 weeks","e":5,"l":-5.84},{"s":"15 weeks","e":10,"l":-5.22},
{"s":"20 weeks","e":0.5,"l":-7.3},{"s":"20 weeks","e":1,"l":-6.96},{"s":"20 weeks","e":2,"l":-6.43},{"s":"20 weeks","e":5,"l":-5.76},{"s":"20 weeks","e":10,"l":-5.2},
{"s":"25 weeks","e":0.4,"l":-7.32},{"s":"25 weeks","e":0.5,"l":-7.24},{"s":"25 weeks","e":1,"l":-6.9},{"s":"25 weeks","e":2,"l":-6.34},{"s":"25 weeks","e":5,"l":-5.7},{"s":"25 weeks","e":10,"l":-5.17},
{"s":"30 weeks","e":0.2,"l":-7.88},{"s":"30 weeks","e":0.3,"l":-7.6},{"s":"30 weeks","e":0.4,"l":-7.38},{"s":"30 weeks","e":0.5,"l":-7.18},{"s":"30 weeks","e":0.8,"l":-6.96},{"s":"30 weeks","e":1,"l":-6.82},{"s":"30 weeks","e":2,"l":-6.26},{"s":"30 weeks","e":3,"l":-5.98},{"s":"30 weeks","e":5,"l":-5.62},{"s":"30 weeks","e":10,"l":-5.11},
{"s":"35 weeks","e":0.3,"l":-7.44},{"s":"35 weeks","e":0.4,"l":-7.18},{"s":"35 weeks","e":0.5,"l":-7.04},{"s":"35 weeks","e":0.6,"l":-7.04},{"s":"35 weeks","e":0.8,"l":-6.68},{"s":"35 weeks","e":1,"l":-6.15},{"s":"35 weeks","e":1.5,"l":-6.2},{"s":"35 weeks","e":2,"l":-6.01},{"s":"35 weeks","e":3,"l":-5.78},{"s":"35 weeks","e":5,"l":-5.48},{"s":"35 weeks","e":10,"l":-5.06},
{"s":"38 weeks","e":0.2,"l":-7.6},{"s":"38 weeks","e":0.3,"l":-7.3},{"s":"38 weeks","e":0.4,"l":-7.04},{"s":"38 weeks","e":0.5,"l":-6.96},{"s":"38 weeks","e":0.6,"l":-6.88},{"s":"38 weeks","e":0.8,"l":-6.62},{"s":"38 weeks","e":1,"l":-6.43},{"s":"38 weeks","e":1.5,"l":-6.18},{"s":"38 weeks","e":2,"l":-5.84},{"s":"38 weeks","e":3,"l":-5.7},{"s":"38 weeks","e":4,"l":-5.45},{"s":"38 weeks","e":5,"l":-5.36},{"s":"38 weeks","e":6,"l":-5.22},{"s":"38 weeks","e":8,"l":-5.08},{"s":"38 weeks","e":10,"l":-4.97}
]
},
"resolve":{"scale":{"color":"independent","shape":"independent","strokeDash":"independent"},"legend":{"color":"independent","shape":"independent","strokeDash":"independent"}},
"vconcat":[
{"hconcat":[
{"title":"(A) Fetal Total Body ← Maternal Amniotic fluid","width":700,"height":492,"data":{"name":"A"},"mark":{"type":"line","strokeWidth":1.6,"point":{"size":20,"filled":true}},
"encoding":{
"x":{"field":"e","type":"quantitative","scale":{"type":"log","domain":[0.01,10]},"axis":{"values":[0.01,0.02,0.03,0.04,0.05,0.06,0.07,0.08,0.09,0.1,0.2,0.3,0.4,0.5,0.6,0.7,0.8,0.9,1,2,3,4,5,6,7,8,9,10],"labelExpr":"datum.value==0.01?'10⁻²':datum.value==0.1?'10⁻¹':datum.value==1?'10⁰':datum.value==10?'10¹':''","title":"Electron Energy (MeV)","tickSize":4}},
"y":{"field":"l","type":"quantitative","scale":{"domain":[-10,2.15],"nice":false,"zero":false},"axis":{"values":[-10,-9,-8,-7,-6,-5,-4,-3,-2,-1,0,1,2],"labelExpr":"datum.value==-10?'10⁻¹⁰':datum.value==-5?'10⁻⁵':datum.value==0?'10⁰':''","title":"Specific Absorbed Fraction (kg⁻¹)","tickSize":4}},
"color":{"field":"s","type":"nominal","title":null,"scale":{"domain":["8 weeks","10 weeks","15 weeks","20 weeks","25 weeks","30 weeks","35 weeks","38 weeks"],"range":["#1c1838","#4a78e6","#22c5d6","#5ce67a","#c9e84a","#f7a233","#e84a1c","#8e1a0e"]}},
"shape":{"field":"s","type":"nominal","title":null,"scale":{"domain":["8 weeks","10 weeks","15 weeks","20 weeks","25 weeks","30 weeks","35 weeks","38 weeks"],"range":["circle","circle","triangle-up","diamond","circle","cross","triangle-down","triangle-right"]}},
"strokeDash":{"field":"s","type":"nominal","title":null,"scale":{"domain":["8 weeks","10 weeks","15 weeks","20 weeks","25 weeks","30 weeks","35 weeks","38 weeks"],"range":[[1,0],[1,0],[1,0],[1,0],[1,0],[1,0],[1,0],[1,0]]}}
}},
{"title":"(B) Fetal Total Body ← Maternal UB-wall","width":700,"height":492,"data":{"name":"B"},"mark":{"type":"line","strokeWidth":1.6,"point":{"size":20,"filled":true}},
"encoding":{
"x":{"field":"e","type":"quantitative","scale":{"type":"log","domain":[0.01,10]},"axis":{"values":[0.01,0.02,0.03,0.04,0.05,0.06,0.07,0.08,0.09,0.1,0.2,0.3,0.4,0.5,0.6,0.7,0.8,0.9,1,2,3,4,5,6,7,8,9,10],"labelExpr":"datum.value==0.01?'10⁻²':datum.value==0.1?'10⁻¹':datum.value==1?'10⁰':datum.value==10?'10¹':''","title":"Electron Energy (MeV)","tickSize":4}},
"y":{"field":"l","type":"quantitative","scale":{"domain":[-10,2.15],"nice":false,"zero":false},"axis":{"values":[-10,-9,-8,-7,-6,-5,-4,-3,-2,-1,0,1,2],"labelExpr":"datum.value==-10?'10⁻¹⁰':datum.value==-5?'10⁻⁵':datum.value==0?'10⁰':''","title":"Specific Absorbed Fraction (kg⁻¹)","tickSize":4}},
"color":{"field":"s","type":"nominal","title":null,"scale":{"domain":["8 weeks","10 weeks","15 weeks","20 weeks","25 weeks","30 weeks","35 weeks","38 weeks","ICRP adult (Uterus ← UB-wall)"],"range":["#1c1838","#4a78e6","#22c5d6","#5ce67a","#c9e84a","#f7a233","#e84a1c","#8e1a0e","#555555"]}},
"shape":{"field":"s","type":"nominal","title":null,"scale":{"domain":["8 weeks","10 weeks","15 weeks","20 weeks","25 weeks","30 weeks","35 weeks","38 weeks","ICRP adult (Uterus ← UB-wall)"],"range":["circle","circle","triangle-up","diamond","circle","cross","triangle-down","triangle-right","cross"]}},
"strokeDash":{"field":"s","type":"nominal","title":null,"scale":{"domain":["8 weeks","10 weeks","15 weeks","20 weeks","25 weeks","30 weeks","35 weeks","38 weeks","ICRP adult (Uterus ← UB-wall)"],"range":[[1,0],[1,0],[1,0],[1,0],[1,0],[1,0],[1,0],[1,0],[6,3,2,3]]}}
}}
],"spacing":118,"resolve":{"scale":{"color":"independent","shape":"independent","strokeDash":"independent"},"legend":{"color":"independent","shape":"independent","strokeDash":"independent"}}},
{"hconcat":[
{"title":"(C) Fetal Total Body ← Maternal Ovaries","width":700,"height":492,"data":{"name":"C"},"mark":{"type":"line","strokeWidth":1.6,"point":{"size":20,"filled":true}},
"encoding":{
"x":{"field":"e","type":"quantitative","scale":{"type":"log","domain":[0.01,10]},"axis":{"values":[0.01,0.02,0.03,0.04,0.05,0.06,0.07,0.08,0.09,0.1,0.2,0.3,0.4,0.5,0.6,0.7,0.8,0.9,1,2,3,4,5,6,7,8,9,10],"labelExpr":"datum.value==0.01?'10⁻²':datum.value==0.1?'10⁻¹':datum.value==1?'10⁰':datum.value==10?'10¹':''","title":"Electron Energy (MeV)","tickSize":4}},
"y":{"field":"l","type":"quantitative","scale":{"domain":[-10,2.15],"nice":false,"zero":false},"axis":{"values":[-10,-9,-8,-7,-6,-5,-4,-3,-2,-1,0,1,2],"labelExpr":"datum.value==-10?'10⁻¹⁰':datum.value==-5?'10⁻⁵':datum.value==0?'10⁰':''","title":"Specific Absorbed Fraction (kg⁻¹)","tickSize":4}},
"color":{"field":"s","type":"nominal","title":null,"scale":{"domain":["8 weeks","10 weeks","15 weeks","20 weeks","25 weeks","30 weeks","35 weeks","38 weeks","ICRP adult (Uterus ← Ovaries)"],"range":["#1c1838","#4a78e6","#22c5d6","#5ce67a","#c9e84a","#f7a233","#e84a1c","#8e1a0e","#555555"]}},
"shape":{"field":"s","type":"nominal","title":null,"scale":{"domain":["8 weeks","10 weeks","15 weeks","20 weeks","25 weeks","30 weeks","35 weeks","38 weeks","ICRP adult (Uterus ← Ovaries)"],"range":["circle","circle","triangle-up","diamond","circle","cross","triangle-down","triangle-right","cross"]}},
"strokeDash":{"field":"s","type":"nominal","title":null,"scale":{"domain":["8 weeks","10 weeks","15 weeks","20 weeks","25 weeks","30 weeks","35 weeks","38 weeks","ICRP adult (Uterus ← Ovaries)"],"range":[[1,0],[1,0],[1,0],[1,0],[1,0],[1,0],[1,0],[1,0],[6,3,2,3]]}}
}},
{"title":"(D) Fetal Total Body ← Maternal Liver","width":700,"height":492,"data":{"name":"D"},"mark":{"type":"line","strokeWidth":1.6,"point":{"size":20,"filled":true}},
"encoding":{
"x":{"field":"e","type":"quantitative","scale":{"type":"log","domain":[0.01,10]},"axis":{"values":[0.01,0.02,0.03,0.04,0.05,0.06,0.07,0.08,0.09,0.1,0.2,0.3,0.4,0.5,0.6,0.7,0.8,0.9,1,2,3,4,5,6,7,8,9,10],"labelExpr":"datum.value==0.01?'10⁻²':datum.value==0.1?'10⁻¹':datum.value==1?'10⁰':datum.value==10?'10¹':''","title":"Electron Energy (MeV)","tickSize":4}},
"y":{"field":"l","type":"quantitative","scale":{"domain":[-10,2.15],"nice":false,"zero":false},"axis":{"values":[-10,-9,-8,-7,-6,-5,-4,-3,-2,-1,0,1,2],"labelExpr":"datum.value==-10?'10⁻¹⁰':datum.value==-5?'10⁻⁵':datum.value==0?'10⁰':''","title":"Specific Absorbed Fraction (kg⁻¹)","tickSize":4}},
"color":{"field":"s","type":"nominal","title":null,"scale":{"domain":["8 weeks","10 weeks","15 weeks","20 weeks","25 weeks","30 weeks","35 weeks","38 weeks","ICRP adult (Uterus ← Liver)"],"range":["#1c1838","#4a78e6","#22c5d6","#5ce67a","#c9e84a","#f7a233","#e84a1c","#8e1a0e","#555555"]}},
"shape":{"field":"s","type":"nominal","title":null,"scale":{"domain":["8 weeks","10 weeks","15 weeks","20 weeks","25 weeks","30 weeks","35 weeks","38 weeks","ICRP adult (Uterus ← Liver)"],"range":["circle","circle","triangle-up","diamond","circle","cross","triangle-down","triangle-right","cross"]}},
"strokeDash":{"field":"s","type":"nominal","title":null,"scale":{"domain":["8 weeks","10 weeks","15 weeks","20 weeks","25 weeks","30 weeks","35 weeks","38 weeks","ICRP adult (Uterus ← Liver)"],"range":[[1,0],[1,0],[1,0],[1,0],[1,0],[1,0],[1,0],[1,0],[6,3,2,3]]}}
}}
],"spacing":118,"resolve":{"scale":{"color":"independent","shape":"independent","strokeDash":"independent"},"legend":{"color":"independent","shape":"independent","strokeDash":"independent"}}},
{"hconcat":[
{"title":"(E) Fetal Total Body ← Maternal Ht-wall","width":700,"height":492,"data":{"name":"E"},"mark":{"type":"line","strokeWidth":1.6,"point":{"size":20,"filled":true}},
"encoding":{
"x":{"field":"e","type":"quantitative","scale":{"type":"log","domain":[0.01,10]},"axis":{"values":[0.01,0.02,0.03,0.04,0.05,0.06,0.07,0.08,0.09,0.1,0.2,0.3,0.4,0.5,0.6,0.7,0.8,0.9,1,2,3,4,5,6,7,8,9,10],"labelExpr":"datum.value==0.01?'10⁻²':datum.value==0.1?'10⁻¹':datum.value==1?'10⁰':datum.value==10?'10¹':''","title":"Electron Energy (MeV)","tickSize":4}},
"y":{"field":"l","type":"quantitative","scale":{"domain":[-10,2.15],"nice":false,"zero":false},"axis":{"values":[-10,-9,-8,-7,-6,-5,-4,-3,-2,-1,0,1,2],"labelExpr":"datum.value==-10?'10⁻¹⁰':datum.value==-5?'10⁻⁵':datum.value==0?'10⁰':''","title":"Specific Absorbed Fraction (kg⁻¹)","tickSize":4}},
"color":{"field":"s","type":"nominal","title":null,"scale":{"domain":["8 weeks","10 weeks","15 weeks","20 weeks","25 weeks","30 weeks","35 weeks","38 weeks","ICRP adult (Uterus ← Ht-wall)"],"range":["#1c1838","#4a78e6","#22c5d6","#5ce67a","#c9e84a","#f7a233","#e84a1c","#8e1a0e","#555555"]}},
"shape":{"field":"s","type":"nominal","title":null,"scale":{"domain":["8 weeks","10 weeks","15 weeks","20 weeks","25 weeks","30 weeks","35 weeks","38 weeks","ICRP adult (Uterus ← Ht-wall)"],"range":["circle","circle","triangle-up","diamond","circle","cross","triangle-down","triangle-right","cross"]}},
"strokeDash":{"field":"s","type":"nominal","title":null,"scale":{"domain":["8 weeks","10 weeks","15 weeks","20 weeks","25 weeks","30 weeks","35 weeks","38 weeks","ICRP adult (Uterus ← Ht-wall)"],"range":[[1,0],[1,0],[1,0],[1,0],[1,0],[1,0],[1,0],[1,0],[6,3,2,3]]}}
}},
{"title":"(F) Fetal Total Body ← Maternal Thyroid","width":700,"height":492,"data":{"name":"F"},"mark":{"type":"line","strokeWidth":1.6,"point":{"size":20,"filled":true}},
"encoding":{
"x":{"field":"e","type":"quantitative","scale":{"type":"log","domain":[0.01,10]},"axis":{"values":[0.01,0.02,0.03,0.04,0.05,0.06,0.07,0.08,0.09,0.1,0.2,0.3,0.4,0.5,0.6,0.7,0.8,0.9,1,2,3,4,5,6,7,8,9,10],"labelExpr":"datum.value==0.01?'10⁻²':datum.value==0.1?'10⁻¹':datum.value==1?'10⁰':datum.value==10?'10¹':''","title":"Electron Energy (MeV)","tickSize":4}},
"y":{"field":"l","type":"quantitative","scale":{"domain":[-10,2.15],"nice":false,"zero":false},"axis":{"values":[-10,-9,-8,-7,-6,-5,-4,-3,-2,-1,0,1,2],"labelExpr":"datum.value==-10?'10⁻¹⁰':datum.value==-5?'10⁻⁵':datum.value==0?'10⁰':''","title":"Specific Absorbed Fraction (kg⁻¹)","tickSize":4}},
"color":{"field":"s","type":"nominal","title":null,"scale":{"domain":["8 weeks","10 weeks","15 weeks","20 weeks","25 weeks","30 weeks","35 weeks","38 weeks","ICRP adult (Uterus ← Thyroid)"],"range":["#1c1838","#4a78e6","#22c5d6","#5ce67a","#c9e84a","#f7a233","#e84a1c","#8e1a0e","#555555"]}},
"shape":{"field":"s","type":"nominal","title":null,"scale":{"domain":["8 weeks","10 weeks","15 weeks","20 weeks","25 weeks","30 weeks","35 weeks","38 weeks","ICRP adult (Uterus ← Thyroid)"],"range":["circle","circle","triangle-up","diamond","circle","cross","triangle-down","triangle-right","cross"]}},
"strokeDash":{"field":"s","type":"nominal","title":null,"scale":{"domain":["8 weeks","10 weeks","15 weeks","20 weeks","25 weeks","30 weeks","35 weeks","38 weeks","ICRP adult (Uterus ← Thyroid)"],"range":[[1,0],[1,0],[1,0],[1,0],[1,0],[1,0],[1,0],[1,0],[6,3,2,3]]}}
}}
],"spacing":118,"resolve":{"scale":{"color":"independent","shape":"independent","strokeDash":"independent"},"legend":{"color":"independent","shape":"independent","strokeDash":"independent"}}}
],"spacing":62
}
